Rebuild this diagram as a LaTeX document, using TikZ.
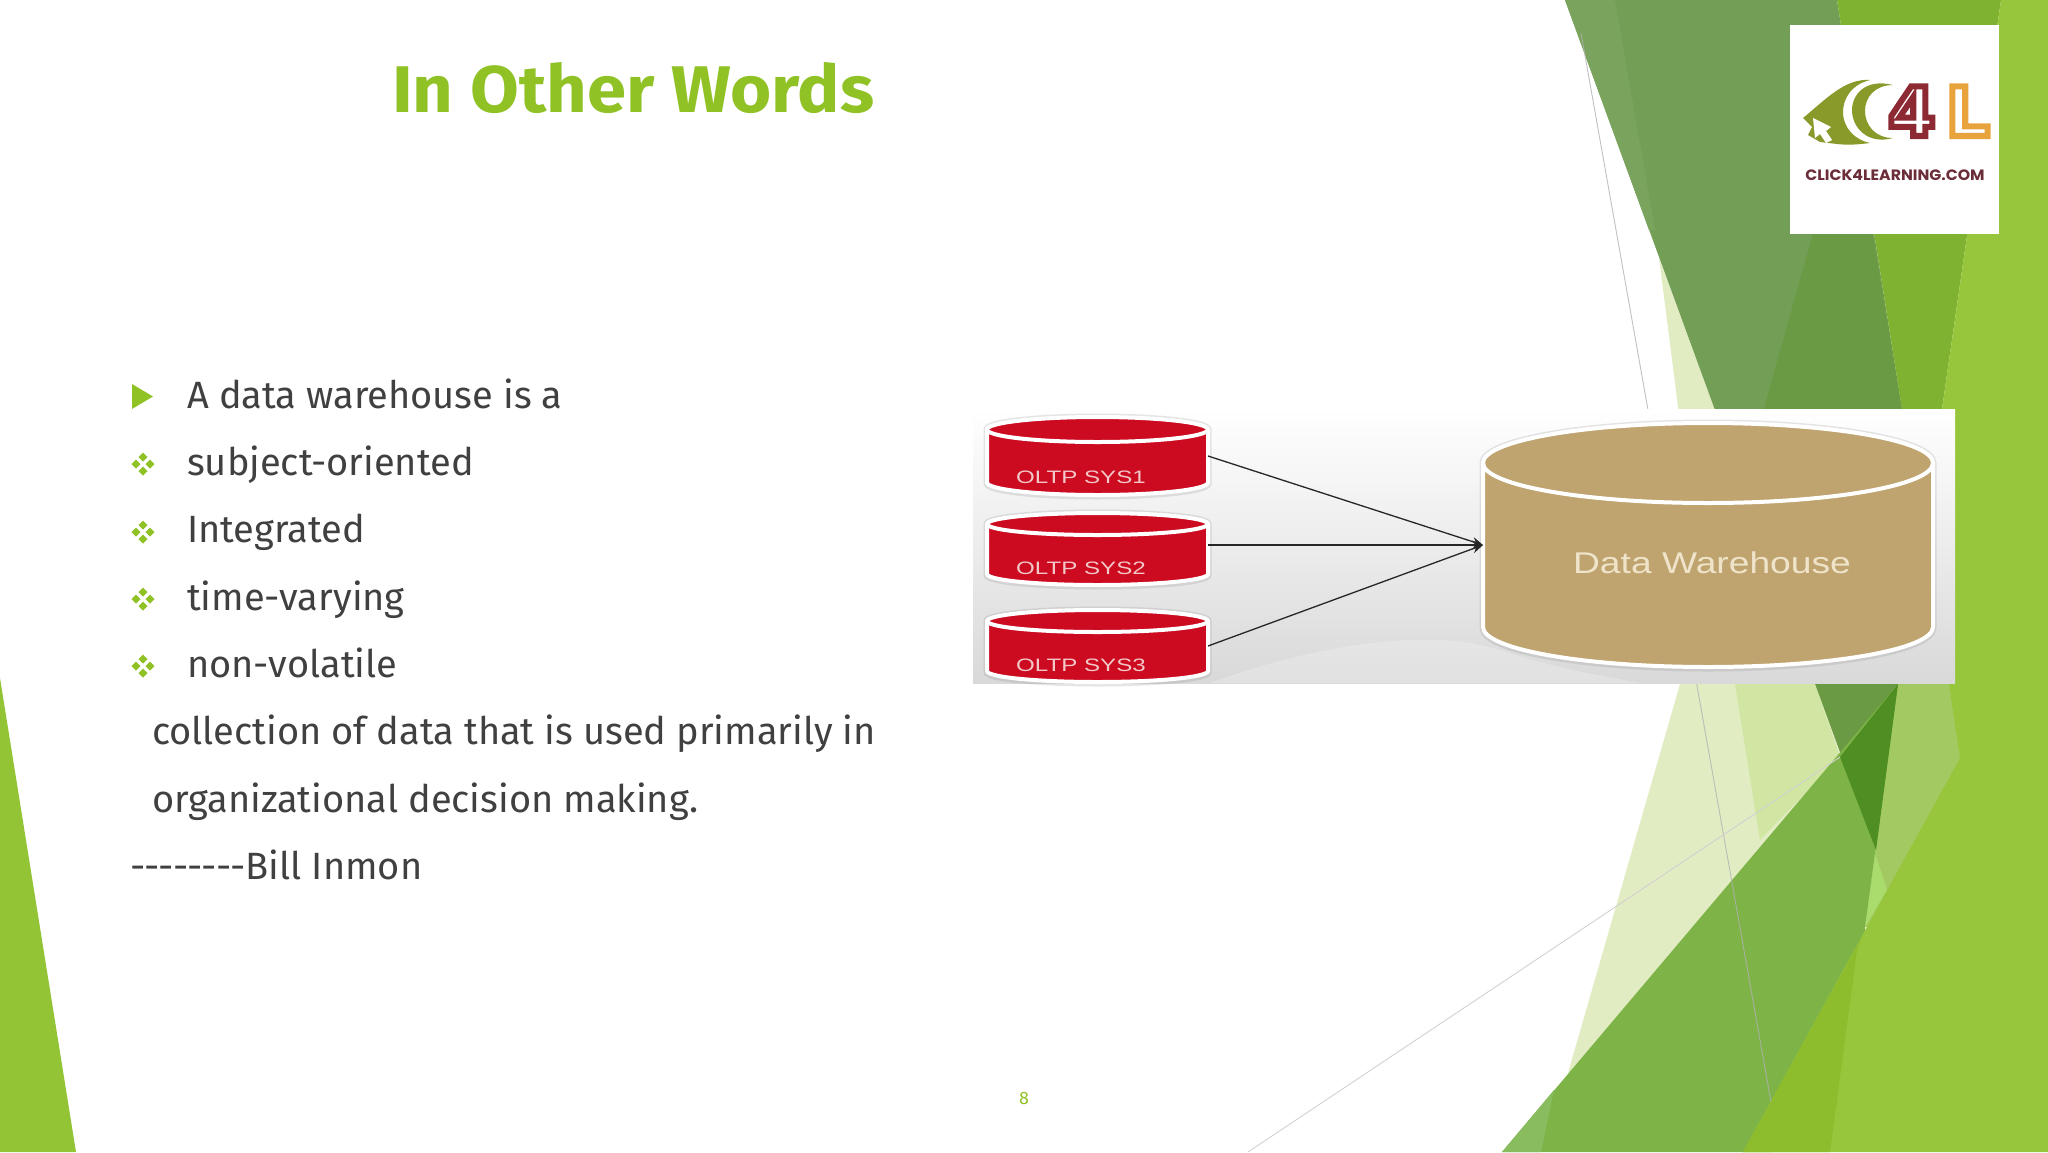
\documentclass[tikz,border=0pt]{standalone}
\usepackage{fontspec}
\usetikzlibrary{arrows.meta}
\setmainfont{Fira Sans}
\newfontfamily\arialf{Liberation Sans}
\newfontfamily\logof{DejaVu Sans}
\newfontfamily\logotf{Poppins}
\definecolor{theme}{HTML}{90C226}
\definecolor{bodytxt}{HTML}{404040}
\definecolor{triL}{HTML}{92C436}
\definecolor{paleA}{HTML}{E1ECC3}
\definecolor{paleB}{HTML}{D1E6A2}
\definecolor{sageA}{HTML}{739E55}
\definecolor{sageS}{HTML}{7AA35E}
\definecolor{sageB}{HTML}{6A9A43}
\definecolor{bandG}{HTML}{80B232}
\definecolor{mainR}{HTML}{97C63D}
\definecolor{softC}{HTML}{A2C962}
\definecolor{softT}{HTML}{A9DC6C}
\definecolor{midD}{HTML}{7DB347}
\definecolor{midS}{HTML}{88BC5E}
\definecolor{deepT}{HTML}{4F8E22}
\definecolor{lowS}{HTML}{8DBD2C}
\definecolor{oltpred}{HTML}{CC0A20}
\definecolor{dwtan}{HTML}{BFA470}
\definecolor{oltptxt}{HTML}{F3C8C8}
\definecolor{dwtxt}{HTML}{EFE4CA}
\definecolor{olivel}{HTML}{8A9A2A}
\definecolor{logotxt}{HTML}{6B2D38}
\tikzset{
  x=1pt,y=-1pt,
  bodyline/.style={anchor=base west,inner sep=0pt,text=bodytxt,font=\fontsize{38}{42}\selectfont},
  thinline/.style={line width=0.9pt},
  bul/.style={fill=theme,draw=none},
  dbbox/.style={inner sep=0pt,outer sep=0pt,draw=none},
  dblabel/.style={inner sep=0pt,anchor=base,xscale=1.34,font=\arialf\fontsize{18}{20}\selectfont,text=oltptxt},
  feed/.style={draw=black!85,line width=1.3pt,-{Stealth[length=11pt,width=9pt]}}
}
% name, x left, x right, y top, y ellipse bottom, y bottom, fill
\newcommand{\dbcyl}[7]{%
  \pgfmathsetmacro{\rx}{(#3-#2)/2}%
  \pgfmathsetmacro{\ry}{(#5-#4)/2}%
  \pgfmathsetmacro{\yc}{#4+\ry}%
  \pgfmathsetmacro{\yl}{#6-\ry}%
  \pgfmathsetmacro{\xc}{#2+\rx}%
  \pgfmathsetmacro{\ym}{(#4+#6)/2}%
  \path[draw=black!45,opacity=0.22,line width=7pt] (#2,\yc) -- (#2,\yl+1) arc[start angle=180,end angle=0,x radius=\rx,y radius=\ry] -- (#3,\yc) arc[start angle=0,end angle=-180,x radius=\rx,y radius=\ry] -- cycle;
  \path[fill=#7,draw=white,line width=4pt] (#2,\yc) -- (#2,\yl) arc[start angle=180,end angle=0,x radius=\rx,y radius=\ry] -- (#3,\yc) arc[start angle=0,end angle=-180,x radius=\rx,y radius=\ry] -- cycle;
  \path[draw=white,line width=4pt] (#2,\yc) arc[start angle=180,end angle=0,x radius=\rx,y radius=\ry];
  \node[dbbox,minimum width=#3pt-#2pt,minimum height=#6pt-#4pt] (#1) at (\xc,\ym) {};
}
\newcommand{\fourdia}[2]{%
  \foreach \dx/\dy in {0/-7,7/0,0/7,-7/0}{%
    \fill[bul] (#1+\dx,#2+\dy-4.5) -- (#1+\dx+4.5,#2+\dy) -- (#1+\dx,#2+\dy+4.5) -- (#1+\dx-4.5,#2+\dy) -- cycle;
  }%
}
\begin{document}
\begin{tikzpicture}
\useasboundingbox (0,0) rectangle (2048,1152);
\fill[white] (0,0) rectangle (2048,1152);
% theme shapes
\fill[triL] (0,678) -- (76,1152) -- (0,1152) -- cycle;
\fill[paleA] (1659,258) -- (1690,500) -- (1680,684) -- (1568,1073) -- (1700,1000) -- (1898,684) -- (1715,409) -- cycle;
\fill[paleB] (1735,684) -- (1815,684) -- (1840,757) -- (1760,840) -- cycle;
\fill[sageA] (1565,0) -- (1837,0) -- (1902,409) -- (1898,684) -- (1876,850) -- cycle;
\fill[sageS] (1565,0) -- (1615,0) -- (1655,230) -- (1649,230) -- cycle;
\fill[sageB] (1850,100) -- (1902,409) -- (1898,684) -- (1876,850) -- (1742,484) -- (1764,409) -- cycle;
\fill[bandG] (1837,0) -- (2001,0) -- (1942,409) -- (1902,409) -- cycle;
\fill[softC] (1898,684) -- (1949,684) -- (1970,758) -- (1880,930) -- (1865,927) -- cycle;
\fill[softT] (1875,853) -- (1887,890) -- (1865,927) -- cycle;
\fill[midD] (1898,684) -- (1865,927) -- (1870,960) -- (1770,1152) -- (1502,1152) -- cycle;
\fill[midS] (1502,1152) -- (1554,1090) -- (1541,1152) -- cycle;
\fill[deepT] (1840,757) -- (1898,684) -- (1876,850) -- cycle;
\fill[mainR] (2001,0) -- (2048,0) -- (2048,1152) -- (1743,1152) -- (1960,758) -- (1949,684) -- (1942,409) -- cycle;
\fill[lowS] (1743,1152) -- (1830,1152) -- (1857,950) -- (1862,937) -- cycle;
% thin lines
\draw[thinline,draw=black!30,opacity=.8] (1581,33) -- (1771,1102);
\draw[thinline,draw=black!18] (1248,1152) -- (1840,757);
% left bullets
\fill[bul] (132,384) -- (153,396.5) -- (132,409) -- cycle;
\fourdia{143}{464}
\fourdia{143}{532}
\fourdia{143}{599}
\fourdia{143}{666}
% title
\node[anchor=base west,inner sep=0pt,text=theme,xscale=1.07,font=\bfseries\fontsize{66}{70}\selectfont] (title) at (392,112) {In Other Words};
% body text
\node[bodyline] (l1) at (187,408) {A data warehouse is a};
\node[bodyline] (l2) at (187,475) {subject-oriented};
\node[bodyline] (l3) at (187,542) {Integrated};
\node[bodyline] (l4) at (187,610) {time-varying};
\node[bodyline] (l5) at (187,677) {non-volatile};
\node[bodyline] (l6) at (152,744) {collection of data that is used primarily in};
\node[bodyline] (l7) at (152,812) {organizational decision making.};
\node[bodyline] (l8) at (130,879) {-\kern-1pt-\kern-1pt-\kern-1pt-\kern-1pt-\kern-1pt-\kern-1pt-\kern-1pt-Bill Inmon};
% slide number
\node[inner sep=0pt,text=theme,font=\fontsize{18}{20}\selectfont] (num) at (1024,1098) {8};
% picture
\fill[top color=white,middle color=white!96!black,bottom color=white!85!black] (973,409) rectangle (1955,683);
\fill[white,opacity=.22] (1210,683) .. controls (1300,650) and (1420,625) .. (1500,650) .. controls (1560,670) and (1600,675) .. (1640,683) -- cycle;
\dbcyl{dw}{1483}{1933}{423}{503}{667}{dwtan}
\dbcyl{s1}{987}{1208}{417}{442}{495}{oltpred}
\dbcyl{s2}{987}{1208}{513}{535}{585}{oltpred}
\dbcyl{s3}{987}{1208}{610}{632}{682}{oltpred}
\node[dblabel] (t1) at (1081,483) {OLTP SYS1};
\node[dblabel] (t2) at (1081,574) {OLTP SYS2};
\node[dblabel] (t3) at (1081,671) {OLTP SYS3};
\node[inner sep=0pt,anchor=base,xscale=1.24,text=dwtxt,font=\arialf\fontsize{30}{34}\selectfont] (tdw) at (1712,573) {Data Warehouse};
\draw[feed] (s1.east) -- (dw.west);
\draw[feed] (s2.east |- dw.west) -- (dw.west);
\draw[feed] (s3.east) -- (dw.west);
% logo
\fill[white] (1790,25) rectangle (1999,234);
\fill[olivel] (1803,118) .. controls (1825,100) and (1845,78) .. (1870,80)
  .. controls (1850,85) and (1843,100) .. (1843,112)
  .. controls (1843,128) and (1855,140) .. (1870,143)
  .. controls (1855,145) and (1845,145) .. (1837,144)
  -- (1820,142) -- (1808,135) -- (1812,127) -- cycle;
\fill[olivel] (1893,85) .. controls (1865,78) and (1852,95) .. (1852,110) .. controls (1852,128) and (1868,145) .. (1893,138) .. controls (1875,138) and (1865,125) .. (1865,111) .. controls (1865,97) and (1875,85) .. (1893,85) -- cycle;
\fill[white] (1813,118) -- (1831,127) -- (1826,131) -- (1832,140) -- (1826,143) -- (1820,134) -- (1815,138) -- cycle;
\node[inner sep=0pt,anchor=base west,text=white,font=\logof\bfseries\fontsize{68}{70}\selectfont] (logo4) at (1888,136) {\special{pdf:code q 2 Tr 6 w 0.55 0.16 0.2 RG 1 1 1 rg}4\special{pdf:code Q}};
\node[inner sep=0pt,anchor=base west,text=white,font=\logof\bfseries\fontsize{68}{70}\selectfont] (logoL) at (1946,136) {\special{pdf:code q 2 Tr 6 w 0.91 0.64 0.24 RG 1 1 1 rg}L\special{pdf:code Q}};
\node[inner sep=0pt,anchor=base,text=logotxt,xscale=1.05,font=\logotf\bfseries\fontsize{15}{18}\selectfont] (logotext) at (1895,180) {CLICK4LEARNING.COM};
\end{tikzpicture}
\end{document}
